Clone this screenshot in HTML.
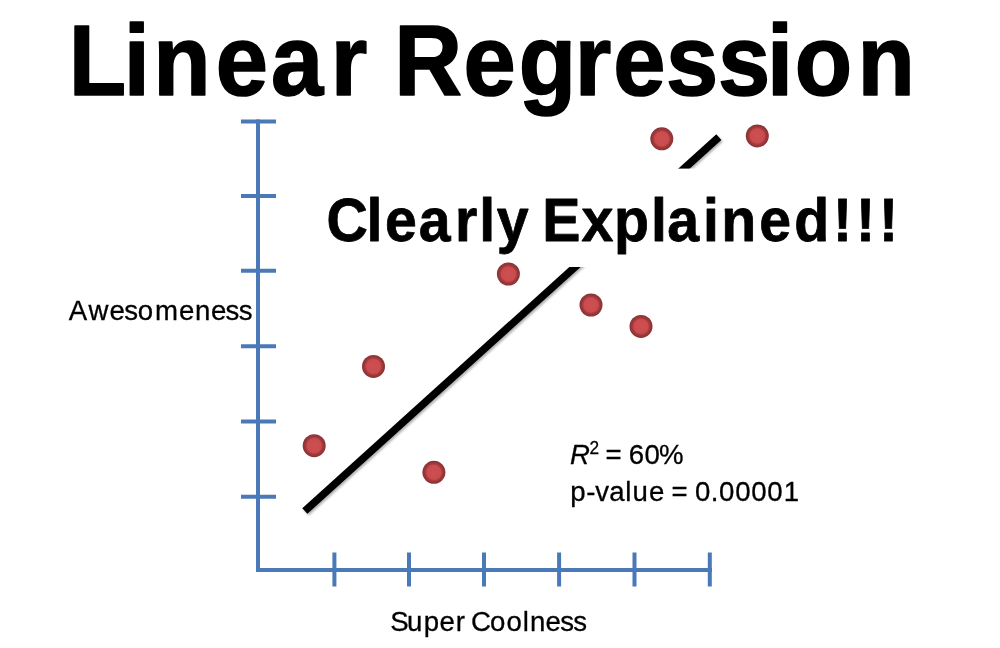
<!DOCTYPE html>
<html><head><meta charset="utf-8"><title>Linear Regression</title><style>
html,body{margin:0;padding:0;background:#fff;overflow:hidden}
svg{display:block}
text{font-family:"Liberation Sans",sans-serif;fill:#000}
.b{font-weight:bold}
</style></head><body>
<svg width="1000" height="648" viewBox="0 0 1000 648">
<defs>
<radialGradient id="dot"><stop offset="0" stop-color="#CC4F51"/><stop offset="0.6" stop-color="#CA4C4E"/><stop offset="0.7" stop-color="#B03E40"/><stop offset="0.8" stop-color="#9A383A"/><stop offset="1" stop-color="#883234"/></radialGradient>
<filter id="sh" x="-10%" y="-10%" width="120%" height="120%"><feGaussianBlur stdDeviation="1.3"/></filter>
</defs>
<g stroke="#4A79B8" stroke-width="4" fill="none">
<path d="M258 119.6V569.9H712"/>
<path d="M241 121.6h35M241 195.9h35M241 270.7h35M241 346.2h35M241 421.4h35M241 496.8h35"/>
<path d="M334.4 552.4v34.2M409 552.4v34.2M484 552.4v34.2M559.1 552.4v34.2M634.5 552.4v34.2M709.8 552.4v34.2"/>
</g>
<line x1="306.2" y1="512.8" x2="720.2" y2="138.9" stroke="#000" stroke-opacity="0.3" stroke-width="7.6" filter="url(#sh)"/>
<line x1="304.8" y1="511" x2="718.85" y2="137.1" stroke="#000" stroke-width="7.6"/>
<rect x="290" y="168.6" width="640" height="98.4" fill="#fff"/>
<g fill="url(#dot)">
<circle cx="314.2" cy="445.7" r="11.5"/><circle cx="373.5" cy="366.4" r="11.5"/><circle cx="433.9" cy="472.3" r="11.5"/>
<circle cx="508.4" cy="274" r="11.5"/><circle cx="591" cy="305" r="11.5"/><circle cx="641" cy="326.4" r="11.5"/>
<circle cx="661.8" cy="138.8" r="11.5"/><circle cx="757.3" cy="135.9" r="11.5"/>
</g>
<text class="b" transform="scale(0.9341,1)" x="73.6 132.4 164.1 230.9 290.2 354.0 395.8 422.1 496.1 555.3 615.4 656.6 713.0 768.7 821.0 850.9 917.9" y="95" font-size="100.5" stroke="#000" stroke-width="1.6" stroke-linejoin="round">Linear Regression</text>
<text class="b" transform="scale(0.9385,1)" x="347.9 390.6 410.1 446.1 484.7 510.8 529.2 564.1 577.8 619.5 654.3 693.6 711.1 749.1 768.6 809.0 846.3 887.5 912.0 936.5" y="241.4" font-size="61" stroke="#000" stroke-width="0.8" stroke-linejoin="round">Clearly Explained!!!</text>
<text transform="scale(0.9860,1)" x="69.8 89.7 111.0 126.1 139.8 157.1 181.5 197.8 213.9 228.7 242.1" y="320.4" font-size="28" stroke="#000" stroke-width="0.3">Awesomeness</text>
<text transform="scale(0.9860,1)" x="395.8 412.9 429.8 445.8 462.3 472.0 477.8 497.0 513.6 530.2 537.5 553.3 568.1 581.5" y="630.9" font-size="28" stroke="#000" stroke-width="0.3">Super Coolness</text>
<text transform="scale(0.9860,1)" y="464" font-size="28" stroke="#000" stroke-width="0.3"><tspan font-style="italic" x="578.1">R</tspan><tspan font-size="17.5" dy="-10" x="597.8">2</tspan><tspan dy="10" x="606.0 614.0 629.5 637.6 653.6 668.3"> = 60%</tspan></text>
<text transform="scale(0.9860,1)" x="578.4 594.6 603.8 617.8 634.1 641.5 658.1 675.2 681.0 698.7 704.8 720.9 729.3 745.6 761.9 778.2 794.8" y="501.1" font-size="28" stroke="#000" stroke-width="0.3">p-value = 0.00001</text>
</svg></body></html>
